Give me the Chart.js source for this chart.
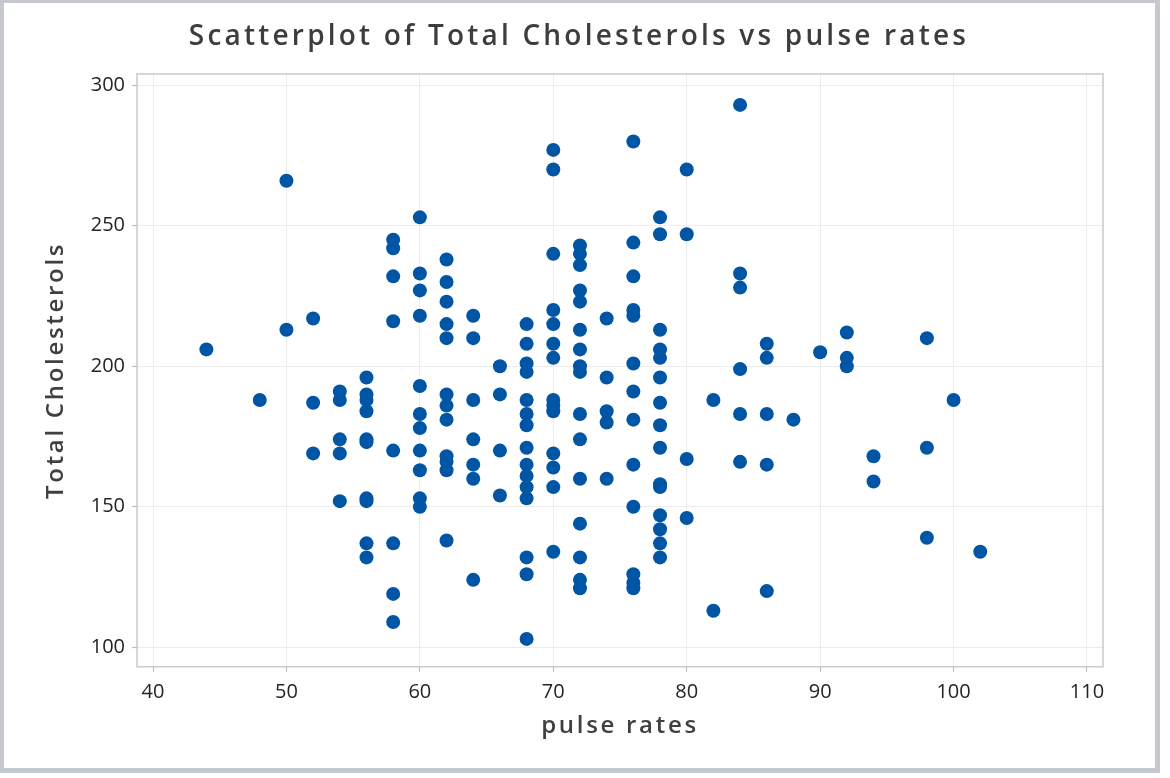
<!DOCTYPE html>
<html>
<head>
<meta charset="utf-8">
<script src="https://cdn.jsdelivr.net/npm/chart.js@4.4.1/dist/chart.umd.min.js"></script>
<style>
  html, body { margin: 0; padding: 0; background: #ffffff; }
  #frame { position: absolute; left: 0; top: 0; width: 1160px; height: 773px; box-sizing: border-box;
           border-style: solid; border-color: #c5c8cf; border-width: 3px 5px 5px 4px; }
  #wrap { position: absolute; left: 0; top: 0; width: 1170px; height: 778px; }
</style>
</head>
<body>
<div id="frame"></div>
<div id="wrap"><canvas id="c" width="1170" height="778"></canvas></div>
<script>
// ---- Data (pulse rate, total cholesterol), grouped by pulse column ----
const pulseRates = [
  44,
  48,
  50, 50,
  52, 52, 52,
  54, 54, 54, 54, 54,
  56, 56, 56, 56, 56, 56, 56, 56, 56, 56,
  58, 58, 58, 58, 58, 58, 58, 58,
  60, 60, 60, 60, 60, 60, 60, 60, 60, 60, 60,
  62, 62, 62, 62, 62, 62, 62, 62, 62, 62, 62, 62,
  64, 64, 64, 64, 64, 64, 64,
  66, 66, 66, 66,
  68, 68, 68, 68, 68, 68, 68, 68, 68, 68, 68, 68, 68, 68, 68,
  70, 70, 70, 70, 70, 70, 70, 70, 70, 70, 70, 70, 70, 70,
  72, 72, 72, 72, 72, 72, 72, 72, 72, 72, 72, 72, 72, 72, 72, 72,
  74, 74, 74, 74, 74,
  76, 76, 76, 76, 76, 76, 76, 76, 76, 76, 76, 76, 76,
  78, 78, 78, 78, 78, 78, 78, 78, 78, 78, 78, 78, 78, 78, 78,
  80, 80, 80, 80,
  82, 82,
  84, 84, 84, 84, 84, 84,
  86, 86, 86, 86, 86,
  88,
  90,
  92, 92, 92,
  94, 94,
  98, 98, 98,
  100,
  102
];
const cholesterols = [
  206,
  188,
  266, 213,
  217, 187, 169,
  191, 188, 174, 169, 152,
  196, 190, 188, 184, 174, 173, 153, 152, 137, 132,
  245, 242, 232, 216, 170, 137, 119, 109,
  253, 233, 227, 218, 193, 183, 178, 170, 163, 153, 150,
  238, 230, 223, 215, 210, 190, 186, 181, 168, 166, 163, 138,
  218, 210, 188, 174, 165, 160, 124,
  200, 190, 170, 154,
  215, 208, 201, 198, 188, 183, 179, 171, 165, 161, 157, 153, 132, 126, 103,
  277, 270, 240, 220, 215, 208, 203, 188, 186, 184, 169, 164, 157, 134,
  243, 240, 236, 227, 223, 213, 206, 200, 198, 183, 174, 160, 144, 132, 124, 121,
  217, 196, 184, 180, 160,
  280, 244, 232, 220, 218, 201, 191, 181, 165, 150, 126, 123, 121,
  253, 247, 213, 206, 203, 196, 187, 179, 171, 158, 157, 147, 142, 137, 132,
  270, 247, 167, 146,
  188, 113,
  293, 233, 228, 199, 183, 166,
  208, 203, 183, 165, 120,
  181,
  205,
  212, 203, 200,
  168, 159,
  210, 171, 139,
  188,
  134
];
const xTicks = [40, 50, 60, 70, 80, 90, 100, 110];
const yTicks = [100, 150, 200, 250, 300];
const chartTitle = 'Scatterplot of Total Cholesterols vs pulse rates';
const xTitle = 'pulse rates';
const yTitle = 'Total Cholesterols';

const points = pulseRates.map((x, i) => ({ x: x, y: cholesterols[i] }));

const FONT = "'Open Sans', 'DejaVu Sans', sans-serif";

const framePlugin = {
  id: 'plotFrame',
  afterLayout(chart) {
    const tb = chart.titleBlock;
    if (tb && !tb._spaced) {
      const orig = tb.draw.bind(tb);
      tb.draw = function (area) {
        const c = chart.ctx; c.save(); c.letterSpacing = '3.2px'; orig(area); c.restore();
      };
      tb._spaced = true;
    }
    ['x', 'y'].forEach(id => {
      const s = chart.scales[id];
      if (s && !s._spaced) {
        const o = s.drawTitle.bind(s);
        s.drawTitle = function () {
          const c = chart.ctx; c.save(); c.letterSpacing = '2.7px'; o(); c.restore();
        };
        s._spaced = true;
      }
    });
  },
  beforeDatasetsDraw(chart) {
    const { ctx, chartArea: a } = chart;
    ctx.save();
    ctx.strokeStyle = '#c9c9c9';
    ctx.lineWidth = 1.5;
    ctx.strokeRect(a.left, a.top, a.right - a.left, a.bottom - a.top);
    ctx.restore();
  }
};

new Chart(document.getElementById('c'), {
  type: 'scatter',
  data: {
    datasets: [{
      data: points,
      backgroundColor: '#0055a5',
      borderWidth: 0,
      pointRadius: 7,
      pointHoverRadius: 7
    }]
  },
  options: {
    responsive: false,
    animation: false,
    events: [],
    layout: { padding: { left: 0, right: 12, top: 0, bottom: 0 } },
    plugins: {
      legend: { display: false },
      tooltip: { enabled: false },
      title: {
        display: true,
        text: chartTitle,
        color: '#3d3d3d',
        font: { family: FONT, size: 28, weight: '600' },
        padding: { top: 20, bottom: 20.4 }
      }
    },
    scales: {
      x: {
        type: 'linear',
        min: 38.8,
        max: 111.2,
        afterBuildTicks: (s) => { s.ticks = xTicks.map(v => ({ value: v })); },
        afterFit: (s) => { s.height = 111.3; },
        grid: { color: '#ececec', lineWidth: 1, tickLength: 5, tickColor: '#bdbdbd', tickWidth: 1.2 },
        border: { display: false },
        ticks: { color: '#242424', font: { family: FONT, size: 20, weight: '500' }, padding: 9, maxRotation: 0 },
        title: {
          display: true, text: xTitle, color: '#404040',
          font: { family: FONT, size: 24, weight: '600' }, padding: 37
        }
      },
      y: {
        type: 'linear',
        min: 93.1,
        max: 304,
        afterBuildTicks: (s) => { s.ticks = yTicks.map(v => ({ value: v })); },
        afterFit: (s) => { s.width = 137; },
        grid: { color: '#ececec', lineWidth: 1, tickLength: 5, tickColor: '#bdbdbd', tickWidth: 1.2 },
        border: { display: false },
        ticks: { color: '#242424', font: { family: FONT, size: 20, weight: '500' }, padding: 7 },
        title: {
          display: true, text: yTitle, color: '#404040',
          font: { family: FONT, size: 24, weight: '600' }, padding: 42
        }
      },
      rightPad: {
        type: 'linear',
        position: 'right',
        display: true,
        afterFit: (s) => { s.width = 55; },
        grid: { display: false },
        border: { display: false },
        ticks: { display: false },
        title: { display: false }
      }
    }
  },
  plugins: [framePlugin]
});
</script>
</body>
</html>
